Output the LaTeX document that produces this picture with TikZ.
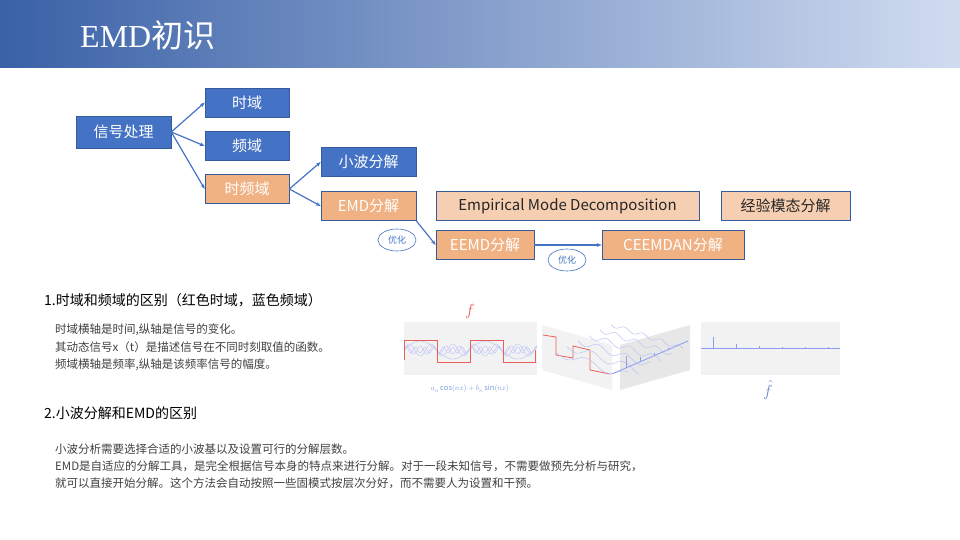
\documentclass[tikz,border=0pt]{standalone}
\usepackage{fontspec}
\setmainfont{Noto Sans CJK SC}
\newfontfamily\titlefont{Liberation Serif}
\usetikzlibrary{shapes.geometric,arrows.meta}
\definecolor{bb}{HTML}{4472C4}
\definecolor{oo}{HTML}{F0B183}
\definecolor{lo}{HTML}{F6CFB2}
\definecolor{tx}{HTML}{404040}
\definecolor{pn}{HTML}{F2F2F2}
\definecolor{rd}{HTML}{E8605A}
\definecolor{bl}{HTML}{8C9CF0}
\tikzset{
 bx/.style={draw=bb!80!black,line width=0.6pt,text=white,inner sep=0pt,font=\fontsize{15}{17}\selectfont},
 blu/.style={bx,fill=bb},
 org/.style={bx,fill=oo},
 lor/.style={bx,fill=lo,text=black!85},
 arr/.style={-{Stealth[length=5pt]},draw=bb,line width=1.2pt},
 opt/.style={ellipse,draw=bb,line width=0.6pt,text=bb,minimum width=38pt,minimum height=22pt,inner sep=0pt,font=\fontsize{9}{10}\selectfont},
 body/.style={anchor=west,text=tx,font=\fontsize{11.5}{13}\selectfont,inner sep=0pt},
 head/.style={anchor=west,text=black,font=\fontsize{14}{16}\selectfont,inner sep=0pt}
}
\begin{document}
\begin{tikzpicture}[x=1pt,y=-1pt]
\useasboundingbox (0,0) rectangle (960,540);
\shade[left color=bb!85!black,right color=bb!25!white] (0,0) rectangle (960,68);
\node[anchor=west,text=white,font=\fontsize{32}{34}\selectfont,inner sep=0pt] (title) at (80,35) {{\titlefont EMD}初识};
% tree
\node[blu,minimum width=95pt,minimum height=32pt] (sp) at (123.5,132) {信号处理};
\node[blu,minimum width=84pt,minimum height=29pt] (td) at (247,102.5) {时域};
\node[blu,minimum width=84pt,minimum height=29pt] (fd) at (247,146) {频域};
\node[org,minimum width=84pt,minimum height=29pt] (tfd) at (247,189) {时频域};
\node[blu,minimum width=95pt,minimum height=29pt] (wv) at (368.5,162) {小波分解};
\node[org,minimum width=95pt,minimum height=29pt] (emd) at (368.5,206) {EMD分解};
\node[lor,minimum width=263pt,minimum height=29pt] (emp) at (567.5,206) {Empirical Mode Decomposition};
\node[lor,minimum width=129pt,minimum height=29pt] (cn) at (785.5,206) {经验模态分解};
\node[org,minimum width=98pt,minimum height=29pt] (eemd) at (485,245) {EEMD分解};
\node[org,minimum width=142pt,minimum height=29pt] (cee) at (673,245) {CEEMDAN分解};
\node[opt] (o1) at (397,240) {优化};
\node[opt] (o2) at (567,260) {优化};
\draw[arr] (sp.east) -- (td.west);
\draw[arr] (sp.east) -- (fd.west);
\draw[arr] (sp.east) -- (tfd.west);
\draw[arr] (tfd.east) -- (wv.west);
\draw[arr] (tfd.east) -- (emd.west);
\draw[arr] (emd.south east) -- (eemd.west);
\draw[arr] (eemd.east) -- (cee.west);
% texts
\node[head] (h1) at (44,300) {1.时域和频域的区别（红色时域，蓝色频域）};
\node[body] (b1) at (55,330) {时域横轴是时间,纵轴是信号的变化。};
\node[body] (b2) at (55,347) {其动态信号x（t）是描述信号在不同时刻取值的函数。};
\node[body] (b3) at (55,365) {频域横轴是频率,纵轴是该频率信号的幅度。};
\node[head] (h2) at (44,413) {2.小波分解和EMD的区别};
\node[body] (c1) at (55,449) {小波分析需要选择合适的小波基以及设置可行的分解层数。};
\node[body] (c2) at (55,466) {EMD是自适应的分解工具，是完全根据信号本身的特点来进行分解。对于一段未知信号，不需要做预先分析与研究，};
\node[body] (c3) at (55,483) {就可以直接开始分解。这个方法会自动按照一些固模式按层次分好，而不需要人为设置和干预。};
% figure panel 1
\fill[pn] (404,322) rectangle (537,375);
\foreach \k/\a in {1/9,3/6,5/4,7/3}{
 \draw[bl!55,line width=0.5pt,domain=0:133,samples=150] plot ({404+\x},{350-\a*sin(\k*\x/65*360)});}
\draw[rd,line width=0.8pt] (404,360) -- (404,340) -- (437,340) -- (437,362) -- (470,362) -- (470,340) -- (503,340) -- (503,362) -- (535,362) -- (535,350);
\node[text=rd,scale=1.6] (f1) at (470,311) {$f$};
\node[text=bb!70,scale=0.75] (fl) at (470,389) {$a_n\cos(nx)+b_n\sin(nx)$};
% panel 2
\fill[pn] (542,325) -- (612,345) -- (612,390) -- (542,370) -- cycle;
\fill[pn!90!gray] (620,345) -- (690,325) -- (690,370) -- (620,390) -- cycle;
\draw[rd,line width=0.8pt] (543,335) -- (556,337) -- (556,355) -- (573,358) -- (573,346) -- (590,350) -- (590,370) -- (610,374);
\foreach \i in {0,...,5}{
 \draw[bl!60,line width=0.5pt,domain=0:80,samples=80] plot ({556+\i*11+\x*0.9},{352-\i*5.5+\x*0.3+(4-\i*0.4)*sin(\x*(8+2*\i))});}
\draw[bl,line width=0.8pt] (612,374) -- (688,341);
\foreach \i/\h in {0/12,1/5,2/3,3/2}{\draw[bl,line width=0.6pt] ({626+\i*14},{368-\i*6}) -- ++(0,-\h);}
% panel 3
\fill[pn] (701,322) rectangle (840,375);
\draw[bl,line width=0.8pt] (701,348) -- (840,348);
\foreach \i/\h in {0/11,1/4,2/2,3/1.5,4/1.5,5/1.5}{\draw[bl,line width=0.6pt] ({713+\i*23},348) -- ++(0,-\h);}
\node[text=bb!80,scale=1.6] (f2) at (768,390) {$\hat{f}$};
\end{tikzpicture}
\end{document}
